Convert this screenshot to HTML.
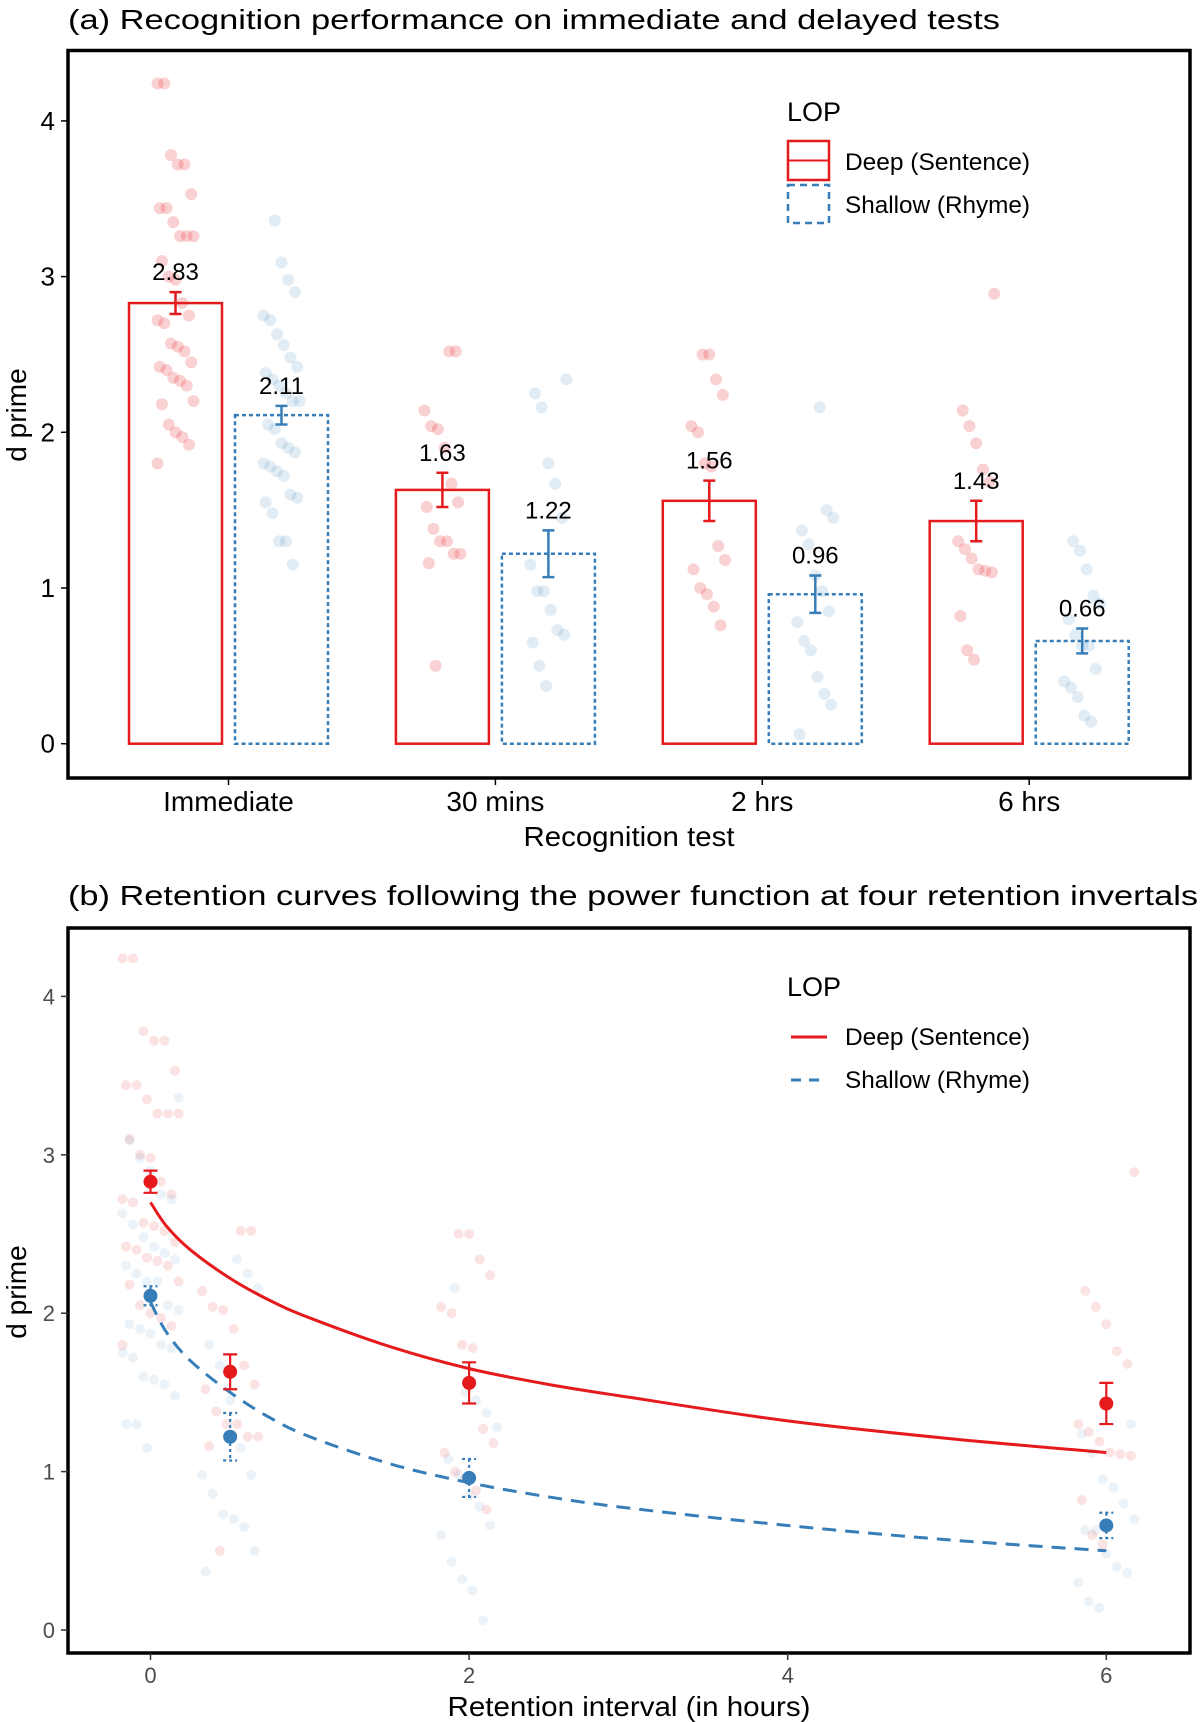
<!DOCTYPE html>
<html><head><meta charset="utf-8"><style>
body{margin:0;background:#fff}
svg{display:block;font-family:"Liberation Sans",Arial,sans-serif}
</style></head><body>
<svg id="chart" width="1200" height="1722" viewBox="0 0 1200 1722" xmlns="http://www.w3.org/2000/svg"></svg>
<script>
const categories = ["Immediate","30 mins","2 hrs","6 hrs"];
const hours = [0,0.5,2,6];
const deepMeans = [2.83,1.63,1.56,1.43];
const shallowMeans = [2.11,1.22,0.96,0.66];
const deepErr = [0.07,0.11,0.13,0.13];
const shallowErr = [0.06,0.15,0.12,0.08];
const yTicks = [0,1,2,3,4];
const xTicksB = [0,2,4,6];
const deepPts = [
 [4.24,4.24,3.78,3.72,3.72,3.53,3.44,3.44,3.35,3.26,3.26,3.26,3.1,3.0,2.98,2.83,2.75,2.72,2.7,2.57,2.55,2.52,2.45,2.42,2.4,2.35,2.33,2.3,2.2,2.18,2.05,2.0,1.97,1.92,1.8],
 [2.52,2.52,2.14,2.04,2.02,1.9,1.67,1.55,1.52,1.38,1.3,1.3,1.22,1.22,1.16,0.5],
 [2.5,2.5,2.34,2.24,2.04,2.0,1.8,1.78,1.27,1.18,1.12,1.0,0.96,0.88,0.76],
 [2.89,2.14,2.04,1.93,1.76,1.68,1.3,1.25,1.19,1.12,1.11,1.1,0.82,0.6,0.54]];
const shallowPts = [
 [3.36,3.09,2.98,2.9,2.75,2.72,2.63,2.56,2.48,2.42,2.38,2.34,2.3,2.25,2.2,2.2,2.05,2.02,1.93,1.9,1.87,1.8,1.78,1.75,1.72,1.6,1.58,1.55,1.48,1.3,1.3,1.15],
 [2.34,2.25,2.16,1.8,1.67,1.45,1.15,0.98,0.98,0.86,0.73,0.7,0.65,0.5,0.37],
 [2.16,1.5,1.45,1.37,1.28,1.08,0.98,0.85,0.78,0.66,0.6,0.43,0.32,0.25,0.06],
 [1.3,1.24,1.12,0.95,0.9,0.8,0.7,0.63,0.63,0.48,0.4,0.36,0.3,0.18,0.14]];
const curveT = [0,0.1,0.25,0.5,0.75,1,1.5,2,2.5,3,4,5,6];
const curveDeep = [2.70,2.55,2.40,2.22,2.08,1.97,1.79,1.65,1.55,1.47,1.32,1.21,1.12];
const curveShallow = [2.07,1.88,1.70,1.50,1.34,1.22,1.05,0.93,0.84,0.77,0.66,0.57,0.50];

const RED="#e41a1c", BLUE="#377eb8", NS="http://www.w3.org/2000/svg";
const svg=document.getElementById('chart');
function mk(tag,attrs,parent,text){const e=document.createElementNS(NS,tag);for(const k in attrs)e.setAttribute(k,attrs[k]);if(text!==undefined)e.textContent=text;(parent||svg).appendChild(e);return e;}
function jit(i,k){return (((i*37+k*11)%17)/16-0.5);}

// ---------- Panel A ----------
const gA=mk('g',{});


const yA=v=>743.7-v*155.7;
const catX=i=>228.5+i*266.9;
let t=mk('text',{x:68,y:29,'font-size':28,textLength:932,lengthAdjust:'spacingAndGlyphs'},gA,'(a) Recognition performance on immediate and delayed tests');

categories.forEach((c,i)=>{
  deepPts[i].forEach((v,k)=>{const p=mk('circle',{cx:catX(i)-53+jit(k,i)*36,cy:yA(v),r:6,fill:RED,'fill-opacity':0.2},gA);
    });
  shallowPts[i].forEach((v,k)=>{const p=mk('circle',{cx:catX(i)+53+jit(k,i+2)*36,cy:yA(v),r:6,fill:BLUE,'fill-opacity':0.15},gA);
    });
});
categories.forEach((c,i)=>{
  [[deepMeans,deepErr,RED,-53,null,'deep'],[shallowMeans,shallowErr,BLUE,53,'4 3','shallow']].forEach(([m,e,col,off,dash,nm])=>{
    const cx=catX(i)+off,v=m[i];
    const r=mk('rect',{x:cx-46.5,y:yA(v),width:93,height:yA(0)-yA(v),fill:'none',stroke:col,'stroke-width':2.5},gA);
    if(dash)r.setAttribute('stroke-dasharray',dash);
    
    const eb=mk('path',{d:`M${cx} ${yA(v+e[i])}V${yA(v-e[i])}M${cx-6} ${yA(v+e[i])}H${cx+6}M${cx-6} ${yA(v-e[i])}H${cx+6}`,stroke:col,'stroke-width':2.5,fill:'none'},gA);
    
    const lb=mk('text',{x:cx,y:yA(v+e[i])-12,'font-size':24,'text-anchor':'middle'},gA,v.toFixed(2));
    
  });
});
let fr=mk('rect',{x:68,y:50.5,width:1122,height:727.5,fill:'none',stroke:'#000','stroke-width':3.5},gA);

yTicks.forEach(v=>{mk('line',{x1:61,x2:68,y1:yA(v),y2:yA(v),stroke:'#000','stroke-width':1.5},gA);
  const l=mk('text',{x:55,y:yA(v)+9,'font-size':26,'text-anchor':'end'},gA,String(v));
  });
categories.forEach((c,i)=>{mk('line',{x1:catX(i),x2:catX(i),y1:778,y2:785,stroke:'#000','stroke-width':1.5},gA);
  const l=mk('text',{x:catX(i),y:811,'font-size':28,'text-anchor':'middle'},gA,c);
  });
t=mk('text',{x:629,y:846,'font-size':28,'text-anchor':'middle',textLength:211,lengthAdjust:'spacingAndGlyphs'},gA,'Recognition test');

t=mk('text',{x:0,y:0,'font-size':28,'text-anchor':'middle',transform:'translate(26,415) rotate(-90)'},gA,'d prime');

t=mk('text',{x:787,y:121,'font-size':27},gA,'LOP');
mk('rect',{x:788,y:141,width:41,height:39,fill:'none',stroke:RED,'stroke-width':2.5},gA);
mk('line',{x1:788,x2:829,y1:160.5,y2:160.5,stroke:RED,'stroke-width':2},gA);
mk('rect',{x:788,y:185,width:41,height:38,fill:'none',stroke:BLUE,'stroke-width':2.5,'stroke-dasharray':'7 5'},gA);
t=mk('text',{x:845,y:170,'font-size':24,textLength:185,lengthAdjust:'spacingAndGlyphs'},gA,'Deep (Sentence)');
t=mk('text',{x:845,y:213,'font-size':24,textLength:185,lengthAdjust:'spacingAndGlyphs'},gA,'Shallow (Rhyme)');

// ---------- Panel B ----------
const gB=mk('g',{});


const yB=v=>1630-v*158.4;
const xB=h=>150.5+h*159.3;
t=mk('text',{x:68,y:905,'font-size':28,textLength:1130,lengthAdjust:'spacingAndGlyphs'},gB,'(b) Retention curves following the power function at four retention invertals');

hours.forEach((h,i)=>{
  deepPts[i].forEach((v,k)=>{const p=mk('circle',{cx:xB(h)+jit(k,i)*56,cy:yB(v),r:5,fill:RED,'fill-opacity':0.12},gB);
    });
  shallowPts[i].forEach((v,k)=>{const p=mk('circle',{cx:xB(h)+jit(k,i+3)*56,cy:yB(v),r:5,fill:BLUE,'fill-opacity':0.1},gB);
    });
});
function curve(arr,col,dash,nm){
  const P=curveT.map((h,k)=>[xB(h),yB(arr[k])]);
  let d='M'+P[0][0]+' '+P[0][1];
  for(let k=0;k<P.length-1;k++){
    const p0=P[Math.max(k-1,0)],p1=P[k],p2=P[k+1],p3=P[Math.min(k+2,P.length-1)];
    const c1=[p1[0]+(p2[0]-p0[0])/6,p1[1]+(p2[1]-p0[1])/6],c2=[p2[0]-(p3[0]-p1[0])/6,p2[1]-(p3[1]-p1[1])/6];
    d+=`C${c1[0]} ${c1[1]} ${c2[0]} ${c2[1]} ${p2[0]} ${p2[1]}`;
  }
  const p=mk('path',{d:d,fill:'none',stroke:col,'stroke-width':3},gB);if(dash)p.setAttribute('stroke-dasharray',dash);
  }
curve(curveDeep,RED,null,'deep-curve');
curve(curveShallow,BLUE,'14 9','shallow-curve');
hours.forEach((h,i)=>{
  [[deepMeans,deepErr,RED,null,'deep'],[shallowMeans,shallowErr,BLUE,'3 3','shallow']].forEach(([m,e,col,dash,nm])=>{
    const cx=xB(h),v=m[i];
    const eb=mk('path',{d:`M${cx} ${yB(v+e[i])}V${yB(v-e[i])}M${cx-7} ${yB(v+e[i])}H${cx+7}M${cx-7} ${yB(v-e[i])}H${cx+7}`,stroke:col,'stroke-width':2.2,fill:'none'},gB);
    if(dash)eb.setAttribute('stroke-dasharray',dash);
    
    const c=mk('circle',{cx:cx,cy:yB(v),r:7,fill:col},gB);
    
  });
});
fr=mk('rect',{x:68,y:928,width:1122,height:725,fill:'none',stroke:'#000','stroke-width':3.5},gB);

yTicks.forEach(v=>{mk('line',{x1:61,x2:68,y1:yB(v),y2:yB(v),stroke:'#333','stroke-width':1.5},gB);
  const l=mk('text',{x:55,y:yB(v)+8,'font-size':22,'text-anchor':'end',fill:'#4d4d4d'},gB,String(v));
  });
xTicksB.forEach(h=>{mk('line',{x1:xB(h),x2:xB(h),y1:1653,y2:1660,stroke:'#333','stroke-width':1.5},gB);
  const l=mk('text',{x:xB(h),y:1683,'font-size':22,'text-anchor':'middle',fill:'#4d4d4d'},gB,String(h));
  });
t=mk('text',{x:629,y:1716,'font-size':28,'text-anchor':'middle',textLength:363,lengthAdjust:'spacingAndGlyphs'},gB,'Retention interval (in hours)');

t=mk('text',{x:0,y:0,'font-size':28,'text-anchor':'middle',transform:'translate(26,1292) rotate(-90)'},gB,'d prime');

t=mk('text',{x:787,y:996,'font-size':27},gB,'LOP');
mk('line',{x1:791,x2:827,y1:1037,y2:1037,stroke:RED,'stroke-width':3},gB);
mk('line',{x1:791,x2:827,y1:1080,y2:1080,stroke:BLUE,'stroke-width':3,'stroke-dasharray':'10 8'},gB);
t=mk('text',{x:845,y:1045,'font-size':24,textLength:185,lengthAdjust:'spacingAndGlyphs'},gB,'Deep (Sentence)');
t=mk('text',{x:845,y:1088,'font-size':24,textLength:185,lengthAdjust:'spacingAndGlyphs'},gB,'Shallow (Rhyme)');
</script>
</body></html>
